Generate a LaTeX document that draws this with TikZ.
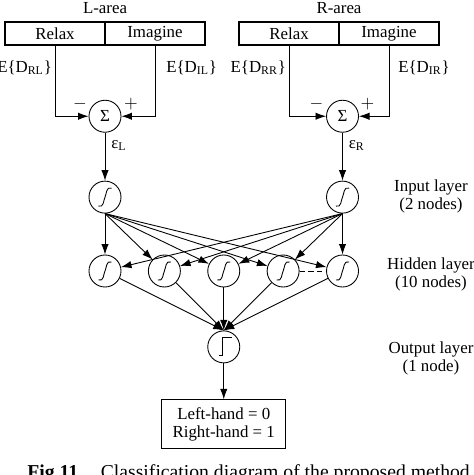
\documentclass[tikz,border=0pt]{standalone}
\usepackage{fontspec}
\setmainfont{Liberation Serif}
\usepackage{tikz}
\usetikzlibrary{shapes.geometric, arrows.meta, calc, positioning}
\tikzstyle{cell} = [rectangle, line width=0.7pt, minimum width=2cm, minimum height=0.46cm, inner sep=0pt, outer sep=0pt, text centered, draw=black]
\tikzstyle{block} = [rectangle, line width=0.6pt, minimum width=2.48cm, minimum height=0.98cm, align=center, draw=black]
\tikzstyle{adder} = [circle, line width=0.5pt, minimum size=0.64cm, inner sep=0pt, draw=black]
\tikzstyle{sigmoid} = [adder, path picture={\draw[line width=0.5pt, shift={(path picture bounding box.center)}] (-0.13,-0.18) .. controls (-0.02,-0.22) and (-0.03,-0.05) .. (0,0) .. controls (0.03,0.05) and (0.02,0.22) .. (0.13,0.18);}]
\tikzstyle{threshold} = [adder, path picture={\draw[line width=0.5pt, shift={(path picture bounding box.center)}] (-0.1,-0.18) -- (-0.02,-0.18) -- (-0.02,0.18) -- (0.16,0.18);}]
\tikzstyle{layertext} = [align=center]
\tikzstyle{arrow} = [line width=0.5pt, -{Latex[length=6pt, width=4.2pt]}]

\begin{document}
\begin{tikzpicture}[node distance = 10mm, auto, font=\fontsize{9.6}{10.2}\selectfont]
		\useasboundingbox (0,0) rectangle (9.48,-9.5);
		\node (LRelax) [cell] at (1.1,-0.67) {Relax};
		\node (LImagine) [cell, right = 0pt of LRelax] {Imagine};
		\node (LArea) at (2.1,-0.16) {L-area};
		\node (RRelax) [cell] at (5.78,-0.67) {Relax};
		\node (RImagine) [cell, right = 0pt of RRelax] {Imagine};
		\node (RArea) at (6.78,-0.16) {R-area};
		\node (H1) [sigmoid] at (2.1,-5.42) {};
		\node (H2) [sigmoid, right = 0.53cm of H1] {};
		\node (H3) [sigmoid, right = 0.53cm of H2] {};
		\node (H4) [sigmoid, right = 0.53cm of H3] {};
		\node (H5) [sigmoid, right = 0.53cm of H4] {};
		\node (InputL) [sigmoid, above = 0.82cm of H1] {};
		\node (InputR) [sigmoid, above = 0.82cm of H5] {};
		\node (SigmaL) [adder, above = 0.96cm of InputL] {Σ};
		\node (SigmaR) [adder, above = 0.96cm of InputR] {Σ};
		\node (Output) [threshold, below = 0.86cm of H3] {};
		\node (Result) [block, below = 0.72cm of Output] {Left-hand = 0\\Right-hand = 1};
		\node (InputText) [layertext] at (8.62,-3.92) {Input layer\\(2 nodes)};
		\node (HiddenText) [layertext] at (8.62,-5.48) {Hidden layer\\(10 nodes)};
		\node (OutputText) [layertext] at (8.62,-7.16) {Output layer\\(1 node)};
		\node (Caption) [anchor=base west, inner sep=0pt, font=\fontsize{11.2}{13}\selectfont] at (0.54,-9.57) {\textbf{Fig.11}\hspace{1.15em}Classification diagram of the proposed method};
		\draw [arrow] (LRelax.south) |- node[pos=0.16, left, inner sep=1.5pt]{E\{D\textsubscript{RL}\}} node[pos=0.87, above]{$-$} (SigmaL);
		\draw [arrow] (LImagine.south) |- node[pos=0.16, right=0.1cm]{E\{D\textsubscript{IL}\}} node[pos=0.86, above]{$+$} (SigmaL);
		\draw [arrow] (RRelax.south) |- node[pos=0.16, left, inner sep=1.5pt]{E\{D\textsubscript{RR}\}} node[pos=0.87, above]{$-$} (SigmaR);
		\draw [arrow] (RImagine.south) |- node[pos=0.16, right=0.06cm]{E\{D\textsubscript{IR}\}} node[pos=0.86, above]{$+$} (SigmaR);
		\draw [arrow] (SigmaL) -- node[pos=0.27, right]{ε\textsubscript{L}} (InputL);
		\draw [arrow] (SigmaR) -- node[pos=0.27, right]{ε\textsubscript{R}} (InputR);
		\draw [arrow] (InputL.south) -- (H1);
		\draw [arrow] (InputL.south) -- (H2);
		\draw [arrow] (InputL.south) -- (H3);
		\draw [arrow] (InputL.south) -- (H4);
		\draw [arrow] (InputL.south) -- (H5);
		\draw [arrow] (InputR.south) -- (H1);
		\draw [arrow] (InputR.south) -- (H2);
		\draw [arrow] (InputR.south) -- (H3);
		\draw [arrow] (InputR.south) -- (H4);
		\draw [arrow] (InputR.south) -- (H5);
		\draw [densely dashed, line width=0.5pt] (H4) -- (H5);
		\draw [arrow] (H1) -- (Output.north);
		\draw [arrow] (H2) -- (Output.north);
		\draw [arrow] (H3) -- (Output.north);
		\draw [arrow] (H4) -- (Output.north);
		\draw [arrow] (H5) -- (Output.north);
		\draw [arrow] (Output) -- (Result);
	\end{tikzpicture}
\end{document}
